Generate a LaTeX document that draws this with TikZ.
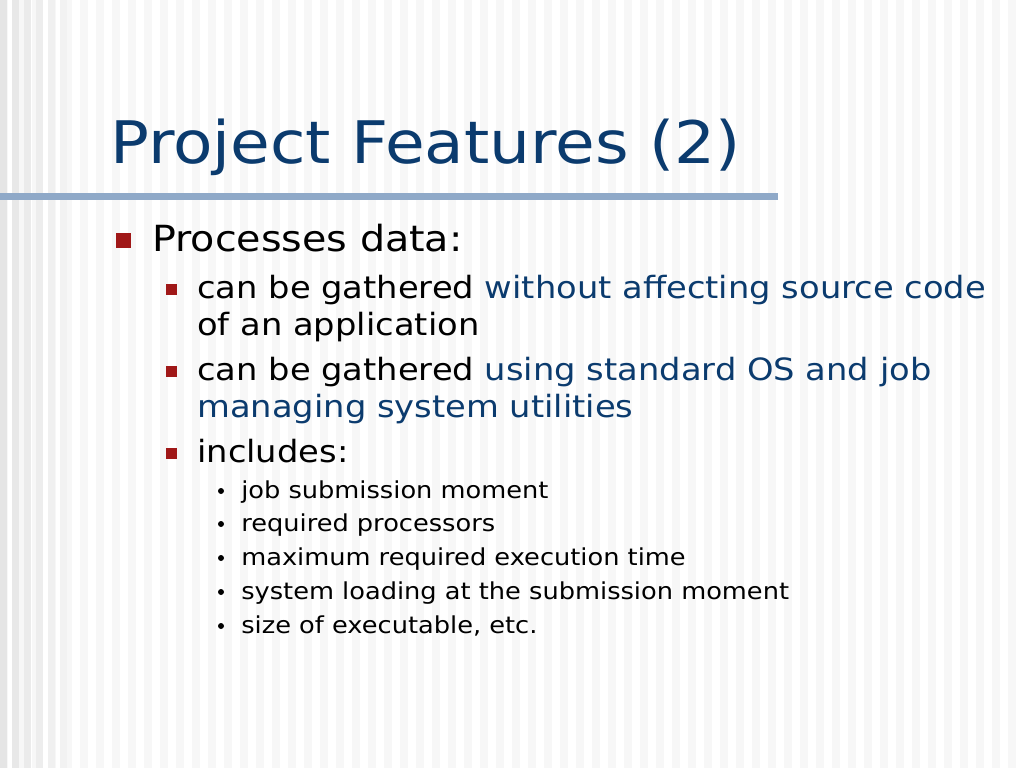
\documentclass[tikz,border=0pt]{standalone}
\usepackage{fontspec}
\setmainfont[FakeStretch=1.1]{DejaVu Sans}
\definecolor{ttl}{HTML}{0B3B6E}
\definecolor{hl}{HTML}{0B3B6E}
\definecolor{rule}{HTML}{8FA9C8}
\definecolor{bul}{HTML}{A01818}
\begin{document}
\begin{tikzpicture}[x=0.75pt,y=-0.75pt,
  t1/.style={anchor=base west,inner sep=0pt,font=\fontsize{27}{32}\selectfont},
  t2/.style={anchor=base west,inner sep=0pt,font=\fontsize{23}{28}\selectfont},
  t3/.style={anchor=base west,inner sep=0pt,font=\fontsize{17.5}{21}\selectfont},
  sq/.style={fill=bul,draw=none}]
\useasboundingbox (0,0) rectangle (1024,768);
\fill[white] (0,0) rectangle (1024,768);
% faint vertical stripes
\foreach \x in {0,16,...,1024} {\fill[black!3] (\x,0) rectangle ++(8,768);}
\foreach \x/\c in {0/10,12/9,24/8,36/7,48/6,60/5} {\fill[black!\c] (\x,0) rectangle ++(7,768);}
% title
\node[anchor=base west,inner sep=0pt,text=ttl,font=\fontsize{44}{50}\selectfont] (title) at (110,163) {Project Features (2)};
\fill[rule] (0,193) rectangle (778,200);
% level 1
\fill[sq] (116,233) rectangle (131,248);
\node[t1] (p1) at (152,251) {Processes data:};
% level 2
\fill[sq] (166,284) rectangle (177,295);
\node[t2] (a1) at (197,298) {can be gathered \textcolor{hl}{without affecting source code}};
\node[t2] (a2) at (197,335) {of an application};
\fill[sq] (166,366) rectangle (177,377);
\node[t2] (b1) at (197,380) {can be gathered \textcolor{hl}{using standard OS and job}};
\node[t2] (b2) at (197,417) {\textcolor{hl}{managing system utilities}};
\fill[sq] (166,448) rectangle (177,459);
\node[t2] (c1) at (197,462) {includes:};
% level 3
\foreach \y/\s [count=\i] in {498/job submission moment,531/required processors,565/maximum required execution time,599/system loading at the submission moment,633/size of executable{,} etc.} {
  \fill (221,\y-7) circle (3);
  \node[t3] (d\i) at (241,\y) {\s};
}
\end{tikzpicture}
\end{document}
